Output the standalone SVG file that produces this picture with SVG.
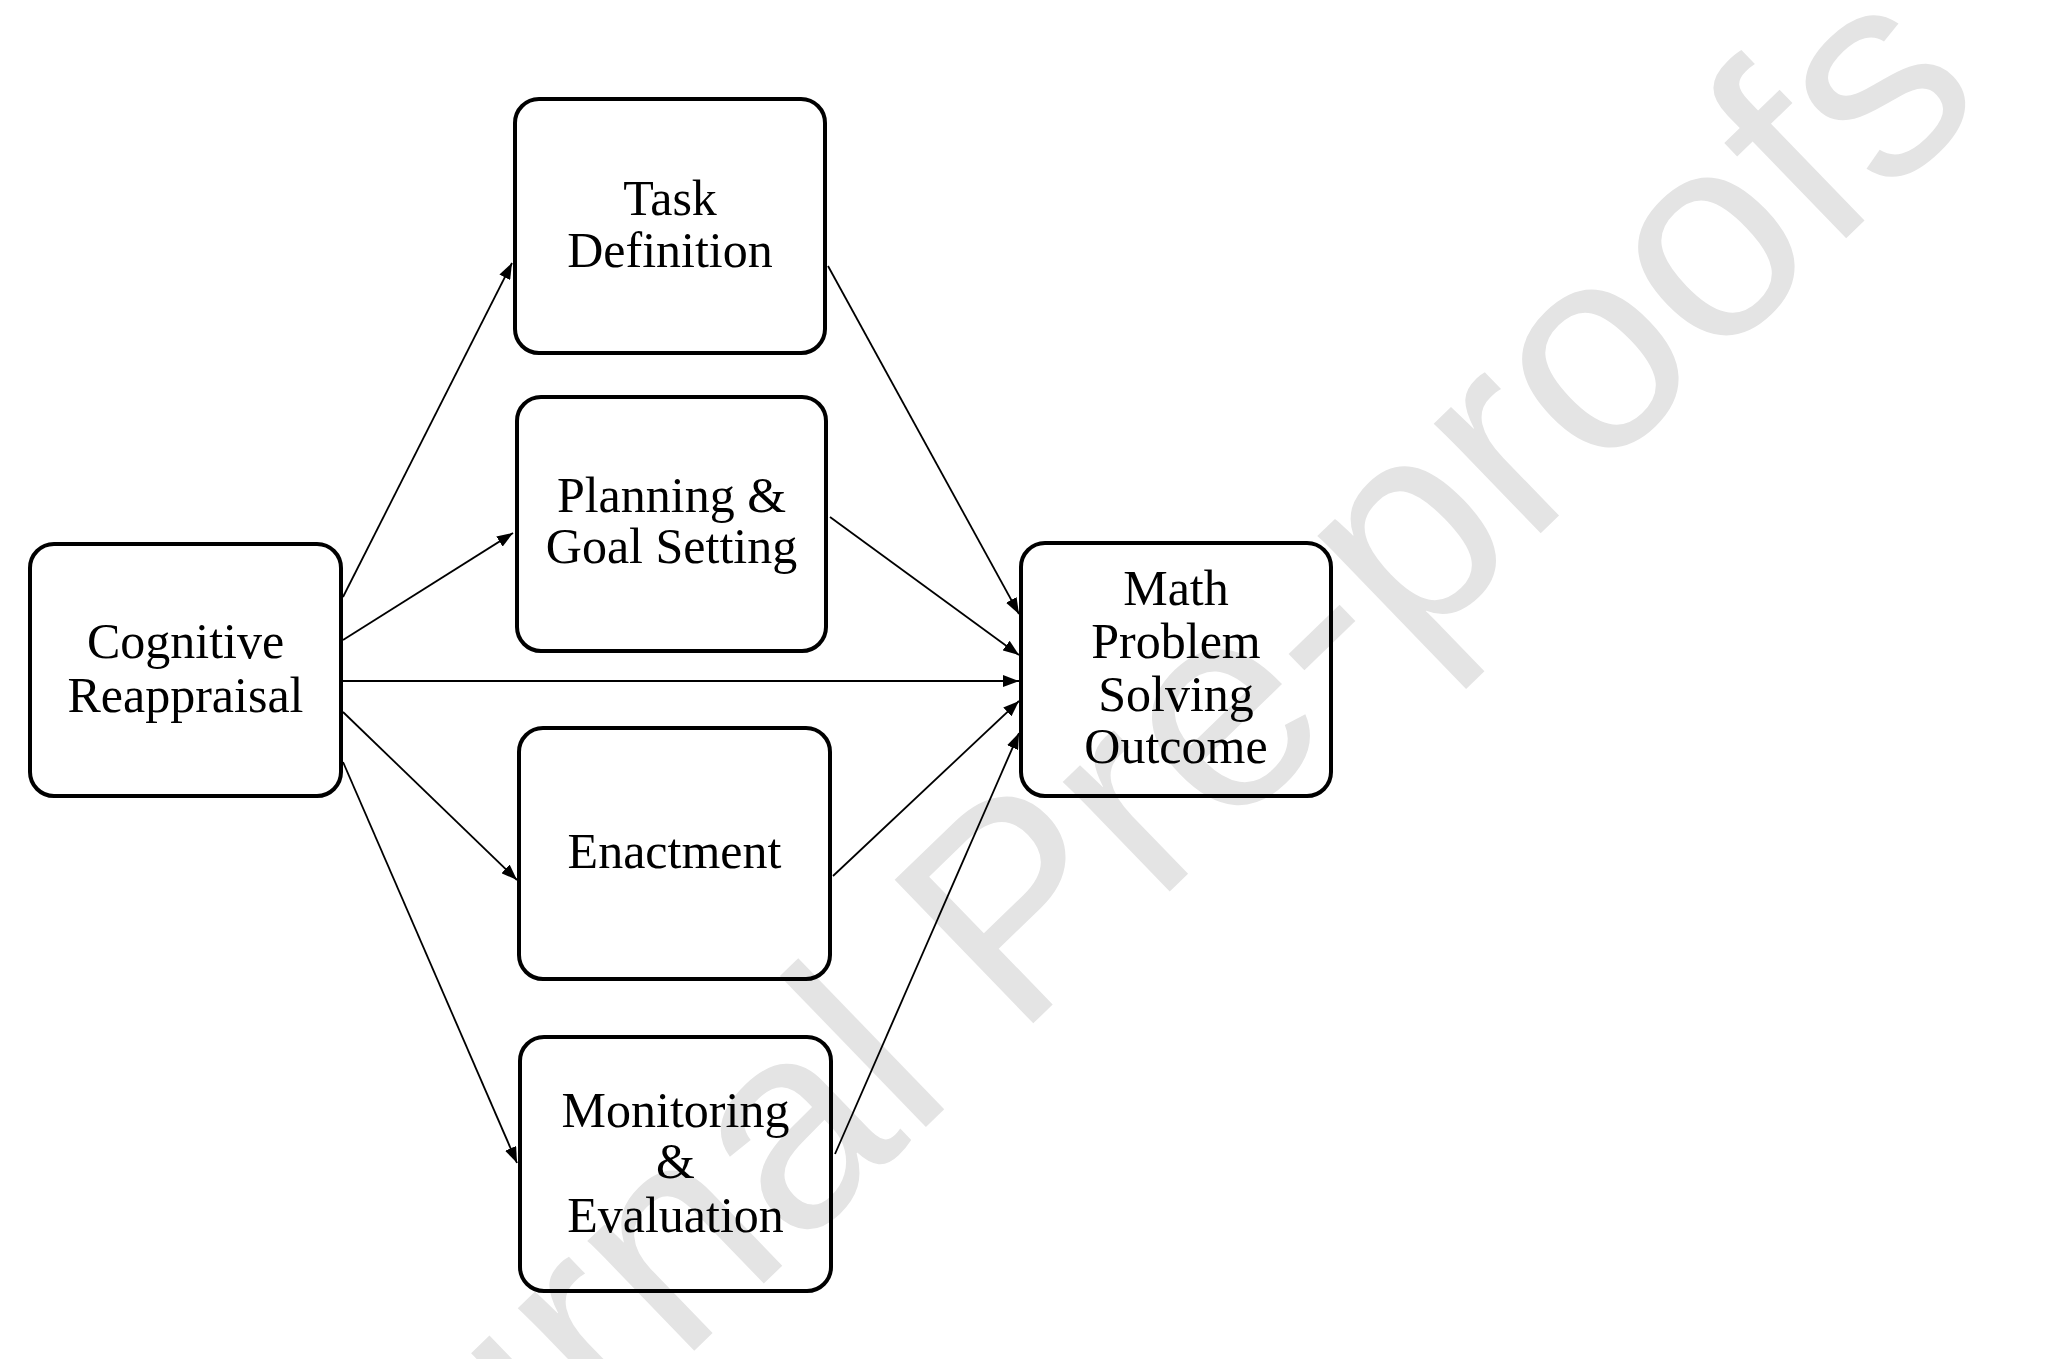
<svg xmlns="http://www.w3.org/2000/svg" width="2067" height="1359" viewBox="0 0 2067 1359">
  <style>
    .box { fill: none; stroke: #000; stroke-width: 4; }
    .lbl { font-family: "Liberation Serif", "Times New Roman", serif; font-size: 50px; fill: #000; text-anchor: middle; }
    .conn { stroke: #000; stroke-width: 1.8; fill: none; marker-end: url(#arr); }
    .wm { font-family: "Liberation Sans", Arial, sans-serif; font-size: 290px; fill: #e4e4e4; text-anchor: middle; }
  </style>
  <defs>
    <marker id="arr" markerUnits="userSpaceOnUse" markerWidth="16" markerHeight="12" refX="16" refY="6" orient="auto">
      <path d="M0,0 L16,6 L0,12 z" fill="#000"/>
    </marker>
  </defs>
  <rect width="2067" height="1359" fill="#fff"/>
  <g id="watermark">
    <text class="wm" transform="translate(1132,928) rotate(-44)">Journal Pre-proofs</text>
  </g>
  <g id="connectors">
    <line class="conn" x1="343" y1="597" x2="512" y2="263"/>
    <line class="conn" x1="343" y1="640" x2="513" y2="533"/>
    <line class="conn" x1="343" y1="681" x2="1019" y2="681"/>
    <line class="conn" x1="343" y1="712" x2="517" y2="880"/>
    <line class="conn" x1="343" y1="762" x2="517" y2="1163"/>
    <line class="conn" x1="828" y1="266" x2="1019" y2="614"/>
    <line class="conn" x1="830" y1="517" x2="1019" y2="655"/>
    <line class="conn" x1="833" y1="876" x2="1019" y2="701"/>
    <line class="conn" x1="835" y1="1154" x2="1019" y2="733"/>
  </g>
  <g id="cognitive-reappraisal">
    <rect class="box" x="30" y="544" width="311" height="252" rx="24"/>
    <text class="lbl" x="185.5" y="658">Cognitive</text>
    <text class="lbl" x="185.5" y="712">Reappraisal</text>
  </g>
  <g id="task-definition">
    <rect class="box" x="515" y="99" width="310" height="254" rx="24"/>
    <text class="lbl" x="670" y="215">Task</text>
    <text class="lbl" x="670" y="267">Definition</text>
  </g>
  <g id="planning-goal-setting">
    <rect class="box" x="517" y="397" width="309" height="254" rx="24"/>
    <text class="lbl" x="671.5" y="512">Planning &amp;</text>
    <text class="lbl" x="671.5" y="563">Goal Setting</text>
  </g>
  <g id="enactment">
    <rect class="box" x="519" y="728" width="311" height="251" rx="24"/>
    <text class="lbl" x="674.5" y="868">Enactment</text>
  </g>
  <g id="monitoring-evaluation">
    <rect class="box" x="520" y="1037" width="311" height="254" rx="24"/>
    <text class="lbl" x="675.5" y="1127">Monitoring</text>
    <text class="lbl" x="675.5" y="1178">&amp;</text>
    <text class="lbl" x="675.5" y="1232">Evaluation</text>
  </g>
  <g id="math-problem-solving-outcome">
    <rect class="box" x="1021" y="543" width="310" height="253" rx="24"/>
    <text class="lbl" x="1176" y="605">Math</text>
    <text class="lbl" x="1176" y="658">Problem</text>
    <text class="lbl" x="1176" y="711">Solving</text>
    <text class="lbl" x="1176" y="763">Outcome</text>
  </g>
</svg>
